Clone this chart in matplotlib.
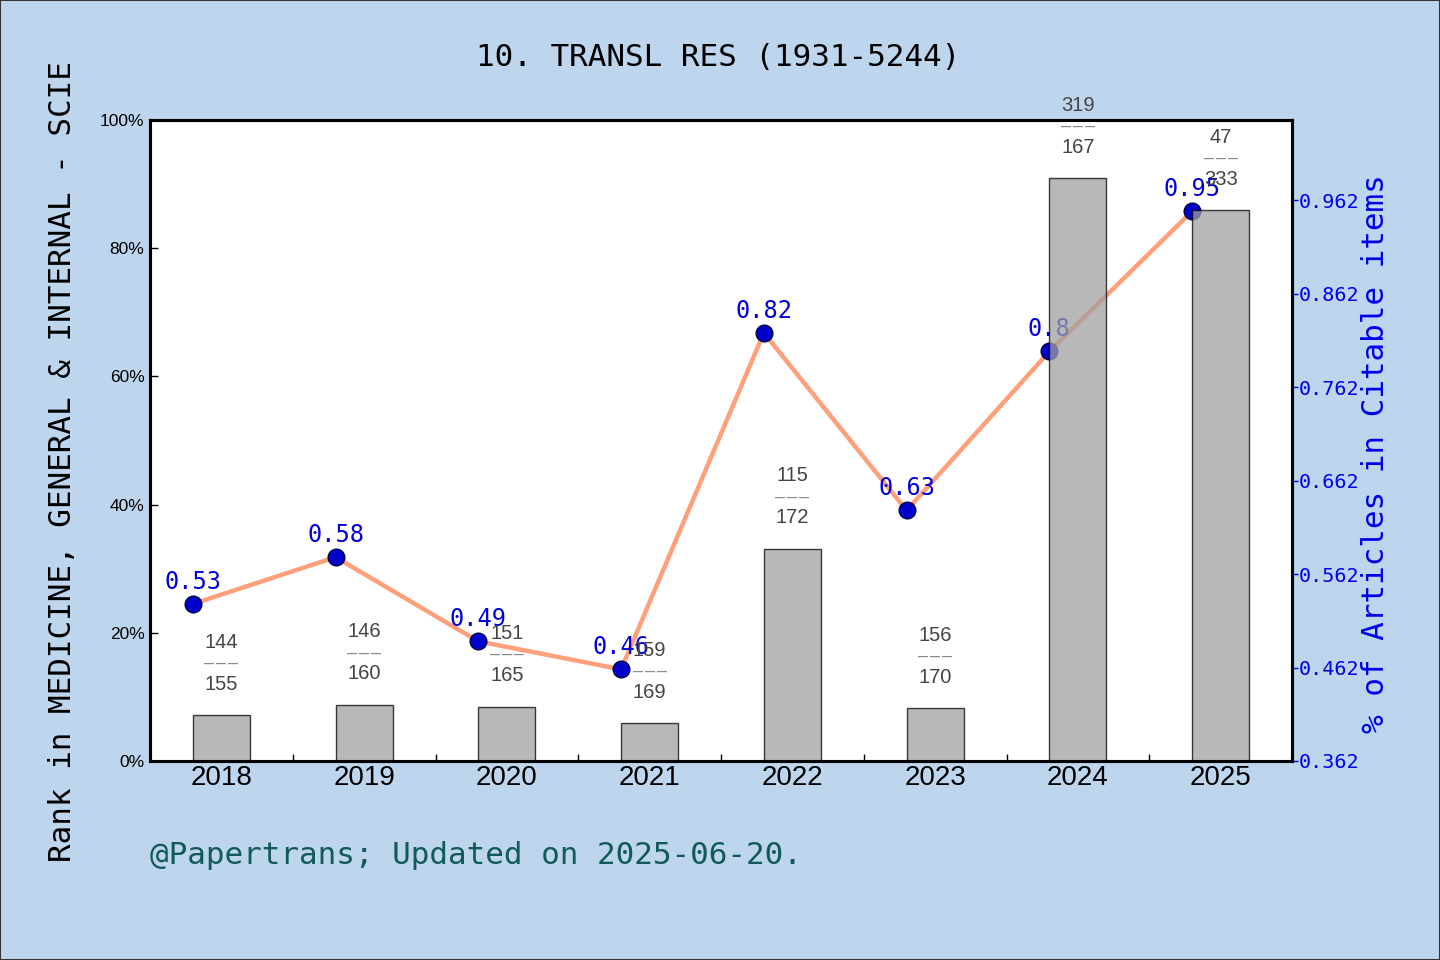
import matplotlib
matplotlib.use("Agg")
import matplotlib.pyplot as plt
from matplotlib.patches import Rectangle
import numpy as np

years = ["2018", "2019", "2020", "2021", "2022", "2023", "2024", "2025"]
rank = [144, 146, 151, 159, 115, 156, 319, 47]
total = [155, 160, 165, 169, 172, 170, 167, 333]
bar_pct = [7.1, 8.75, 8.5, 5.9, 33.1, 8.2, 90.9, 85.9]
ratio = [0.53, 0.58, 0.49, 0.46, 0.82, 0.63, 0.80, 0.95]
ratio_labels = ["0.53", "0.58", "0.49", "0.46", "0.82", "0.63", "0.8", "0.95"]
left_ticks = [0, 20, 40, 60, 80, 100]
right_ticks = [0.362, 0.462, 0.562, 0.662, 0.762, 0.862, 0.962]

BG = "#BDD5ED"
MONO = "DejaVu Sans Mono"
SANS = "Liberation Sans"

fig = plt.figure(figsize=(14.4, 9.6), dpi=100, facecolor=BG)
fig.patches.append(Rectangle((0, 0), 1, 1, transform=fig.transFigure,
                             fill=False, edgecolor="#333333", linewidth=1.5))

ax = fig.add_axes([150/1440, 1-761/960, (1292-150)/1440, (761-120)/960])
ax2 = ax.twinx()
ax.set_zorder(ax2.get_zorder() + 1)
ax.patch.set_visible(False)
ax2.patch.set_visible(True)
ax2.patch.set_facecolor("white")

x = np.arange(len(years))

# bars (rank percentile)
ax.bar(x, bar_pct, width=0.4, color="#A0A0A0", alpha=0.75,
       edgecolor="black", linewidth=1, zorder=2)
for xi, h, r, t in zip(x, bar_pct, rank, total):
    ax.annotate(str(r), (xi, h), xytext=(0, 52.5), textcoords="offset points",
                ha="center", va="center", fontsize=14.5, color="#444444",
                family=SANS, zorder=5, annotation_clip=False)
    for dx in (-8.6, 0, 8.6):
        ax.annotate("–", (xi, h), xytext=(dx, 37.4), textcoords="offset points",
                    ha="center", va="center", fontsize=13, color="#8A8A8A",
                    family=SANS, zorder=5, annotation_clip=False)
    ax.annotate(str(t), (xi, h), xytext=(0, 22.3), textcoords="offset points",
                ha="center", va="center", fontsize=14.5, color="#444444",
                family=SANS, zorder=5, annotation_clip=False)

ax.set_xlim(-0.5, len(years) - 0.5)
ax.set_ylim(0, 100)
ax.set_yticks(left_ticks)
ax.set_yticklabels([f"{v}%" for v in left_ticks], fontsize=12.5, family=SANS)
ax.set_xticks(x)
ax.set_xticklabels(years, fontsize=20, family=SANS)
ax.set_xticks(x[:-1] + 0.5, minor=True)
ax.tick_params(axis="x", which="major", length=0, pad=3)
ax.tick_params(axis="x", which="minor", direction="in", length=5, width=1)
ax.tick_params(axis="y", direction="in", length=6, width=1, pad=4)

# line (citable ratio)
xl = x - 0.2
ax2.plot(xl, ratio, color="#FFA07A", linewidth=3.2, zorder=2)
ax2.plot(xl, ratio, linestyle="none", marker="o", markersize=12,
         markerfacecolor="#0000CD", markeredgecolor="#000044", markeredgewidth=1, zorder=3)
for xi, v, s in zip(xl, ratio, ratio_labels):
    ax2.annotate(s, (xi, v), xytext=(0, 11), textcoords="offset points",
                 ha="center", va="baseline", fontsize=17, color="#0000DD",
                 family=MONO, zorder=4)
ax2.set_ylim(0.362, 1.0476)
ax2.set_yticks(right_ticks)
ax2.set_yticklabels([f"{v:.3f}" for v in right_ticks], fontsize=14.5, family=MONO, color="#0000EE")
ax2.tick_params(axis="y", direction="out", length=4, width=1, colors="#0000EE", pad=1)

for a in (ax, ax2):
    for sp in a.spines.values():
        sp.set_linewidth(2.2)
        sp.set_color("black")

fig.text(718/1440, 1-57/960, "10. TRANSL RES (1931-5244)", ha="center", va="center",
         fontsize=22.3, family=MONO, color="black")
fig.text(63/1440, 1-462/960, "Rank in MEDICINE, GENERAL & INTERNAL - SCIE", rotation=90,
         ha="center", va="center", fontsize=22.3, family=MONO, color="black")
fig.text(1375/1440, 1-454/960, "% of Articles in Citable items", rotation=90,
         ha="center", va="center", fontsize=22.3, family=MONO, color="#0000EE")
fig.text(150/1440, 1-855/960, "@Papertrans; Updated on 2025-06-20.", ha="left", va="center",
         fontsize=22.3, family=MONO, color="#115A5A")

fig.savefig("out.png", dpi=100, facecolor=BG)
